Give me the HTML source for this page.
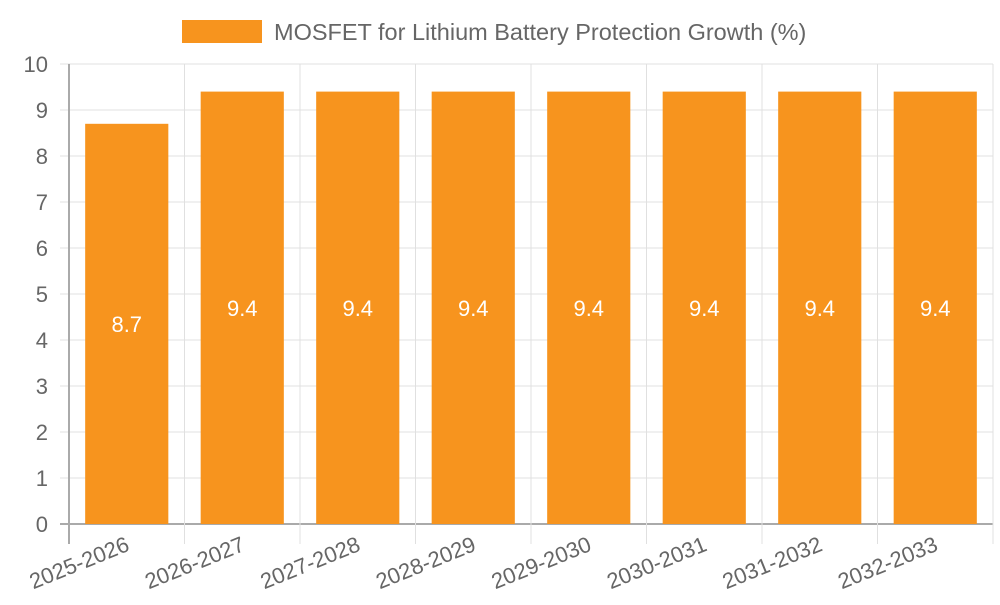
<!DOCTYPE html>
<html><head><meta charset="utf-8"><style>body{margin:0;background:#fff}svg text{font-family:"Liberation Sans",sans-serif}</style></head>
<body>
<svg id="c" width="1000" height="600">
<g>
<rect x="182" y="20" width="80" height="23" fill="#f7941e"/>
<text x="274" y="40" font-size="23.5" fill="#666">MOSFET for Lithium Battery Protection Growth (%)</text>
</g>
</svg>
<script>
const categories=["2025-2026","2026-2027","2027-2028","2028-2029","2029-2030","2030-2031","2031-2032","2032-2033"];
const values=[8.7,9.4,9.4,9.4,9.4,9.4,9.4,9.4];
const yTicks=[0,1,2,3,4,5,6,7,8,9,10];
const svg=document.getElementById('c');const NS='http://www.w3.org/2000/svg';
const L=69,R=993,T=64,B=524,yMax=10;
const y=v=>B-(B-T)*v/yMax;const bw=(R-L)/categories.length;const x=i=>L+bw*i;
function mk(t,a,p){const e=document.createElementNS(NS,t);for(const k in a)e.setAttribute(k,a[k]);(p||svg).appendChild(e);return e;}
yTicks.forEach(t=>{const l=mk('line',{x1:60,x2:R,y1:y(t),y2:y(t),stroke:t===0?'#aaa':'#e0e0e0','stroke-width':t===0?2:1});


const tx=mk('text',{x:48,y:y(t)+8,'font-size':22,fill:'#666','text-anchor':'end'});tx.textContent=t;

});
for(let i=0;i<=categories.length;i++){const l=mk('line',{x1:x(i),x2:x(i),y1:T,y2:544,stroke:i===0?'#aaa':'#e0e0e0','stroke-width':i===0?2:1});

}
categories.forEach((c,i)=>{const w=bw*0.72;const cx=x(i)+bw/2;
const r=mk('rect',{x:cx-w/2,y:y(values[i]),width:w,height:B-y(values[i]),fill:'#f7941e'});


const v=mk('text',{x:cx,y:(y(values[i])+B)/2+8,'font-size':22,fill:'#fff','text-anchor':'middle'});v.textContent=values[i];


const t=mk('text',{x:cx+4,y:550,'font-size':22,fill:'#666','text-anchor':'end',transform:`rotate(-22 ${cx+4} 550)`});t.textContent=c;

});
</script>
</body></html>
